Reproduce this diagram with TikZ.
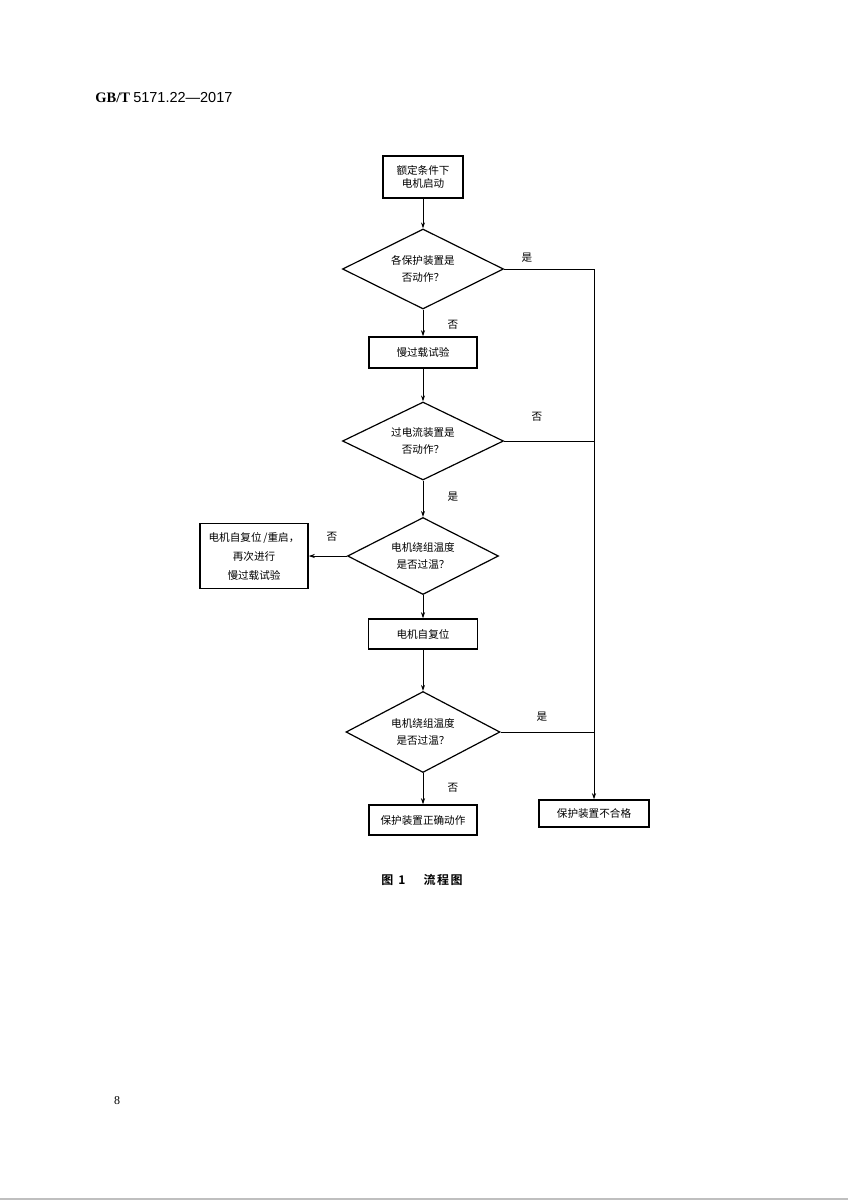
\documentclass[tikz,border=0pt]{standalone}
\usepackage{fontspec}
\setmainfont{Noto Sans CJK SC}[BoldFont={Noto Sans CJK SC Bold}]
\newfontfamily\gbserif{Liberation Serif}
\newfontfamily\gbsans{Liberation Sans}
\usetikzlibrary{shapes.geometric, positioning, arrows.meta}

\tikzset{
    box/.style={draw, line width=1.5pt, align=center, inner sep=0pt},
    choice/.style={draw, diamond, aspect=2, line width=1.2pt, inner sep=0pt, align=center, font=\fontsize{10.6}{17.5}\selectfont},
    lab/.style={inner sep=0pt}
}

\begin{document}
\begin{tikzpicture}[>={Stealth[length=6pt, width=4pt]}, x=1pt, y=-1pt, line width=0.75pt, font=\fontsize{10.6}{13.5}\selectfont]
\useasboundingbox (0,0) rectangle (848,1200);
\node[lab, anchor=base west, font=\fontsize{14.5}{16}\selectfont] (code) at (95,102) {{\gbserif\bfseries GB/T}\ {\gbsans 5171.22—2017}};

\node[box, minimum width=80, minimum height=42] (start) at (423,177) {额定条件下\\电机启动};
\node[choice, minimum width=161, minimum height=80] (prot) at (423,269) {各保护装置是\\否动作？};
\node[box, minimum width=108, minimum height=31] (slow) at (423,352.5) {慢过载试验};
\node[choice, minimum width=161, minimum height=78] (over) at (423,441) {过电流装置是\\否动作？};
\node[choice, minimum width=151, minimum height=77] (temp1) at (423,556) {电机绕组温度\\是否过温？};
\node[box, minimum width=108, minimum height=65, font=\fontsize{10.6}{19}\selectfont] (retry) at (254,556) {电机自复位\,/重启，\\再次进行\\慢过载试验};
\node[box, minimum width=109, minimum height=30] (reset) at (423,634) {电机自复位};
\node[choice, minimum width=154, minimum height=81] (temp2) at (423,732) {电机绕组温度\\是否过温？};
\node[box, minimum width=108, minimum height=30] (pass) at (423,820) {保护装置正确动作};
\node[box, minimum width=110, minimum height=27] (fail) at (594,813.5) {保护装置不合格};

\draw[->] (start) -- (prot);
\draw[->] (prot) -- (slow);
\draw[->] (slow) -- (over);
\draw[->] (over) -- (temp1);
\draw[->] (temp1) -- (retry);
\draw[->] (temp1) -- (reset);
\draw[->] (reset) -- (temp2);
\draw[->] (temp2) -- (pass);
\draw[->] (prot.east) -| (fail.north);
\draw (over.east) -- (over.east -| fail.north);
\draw (temp2.east) -- (temp2.east -| fail.north);

\node[lab] (yes1) at (527,258) {是};
\node[lab] (no1) at (453,325) {否};
\node[lab] (no2) at (537,417) {否};
\node[lab] (yes2) at (453,497) {是};
\node[lab] (no3) at (332,537) {否};
\node[lab] (yes3) at (542,717) {是};
\node[lab] (no4) at (453,788) {否};

\node[lab, font=\fontsize{12}{14}\selectfont\bfseries] (cap) at (422,880) {图\hspace{5pt}1\hspace{18pt}流\hspace{1.5pt}程\hspace{1.5pt}图};
\node[lab, font=\fontsize{12}{14}\selectfont\gbserif] (page) at (117,1101) {8};
\draw[black!25, line width=1.5pt] (0,1199) -- (848,1199);
\end{tikzpicture}
\end{document}
